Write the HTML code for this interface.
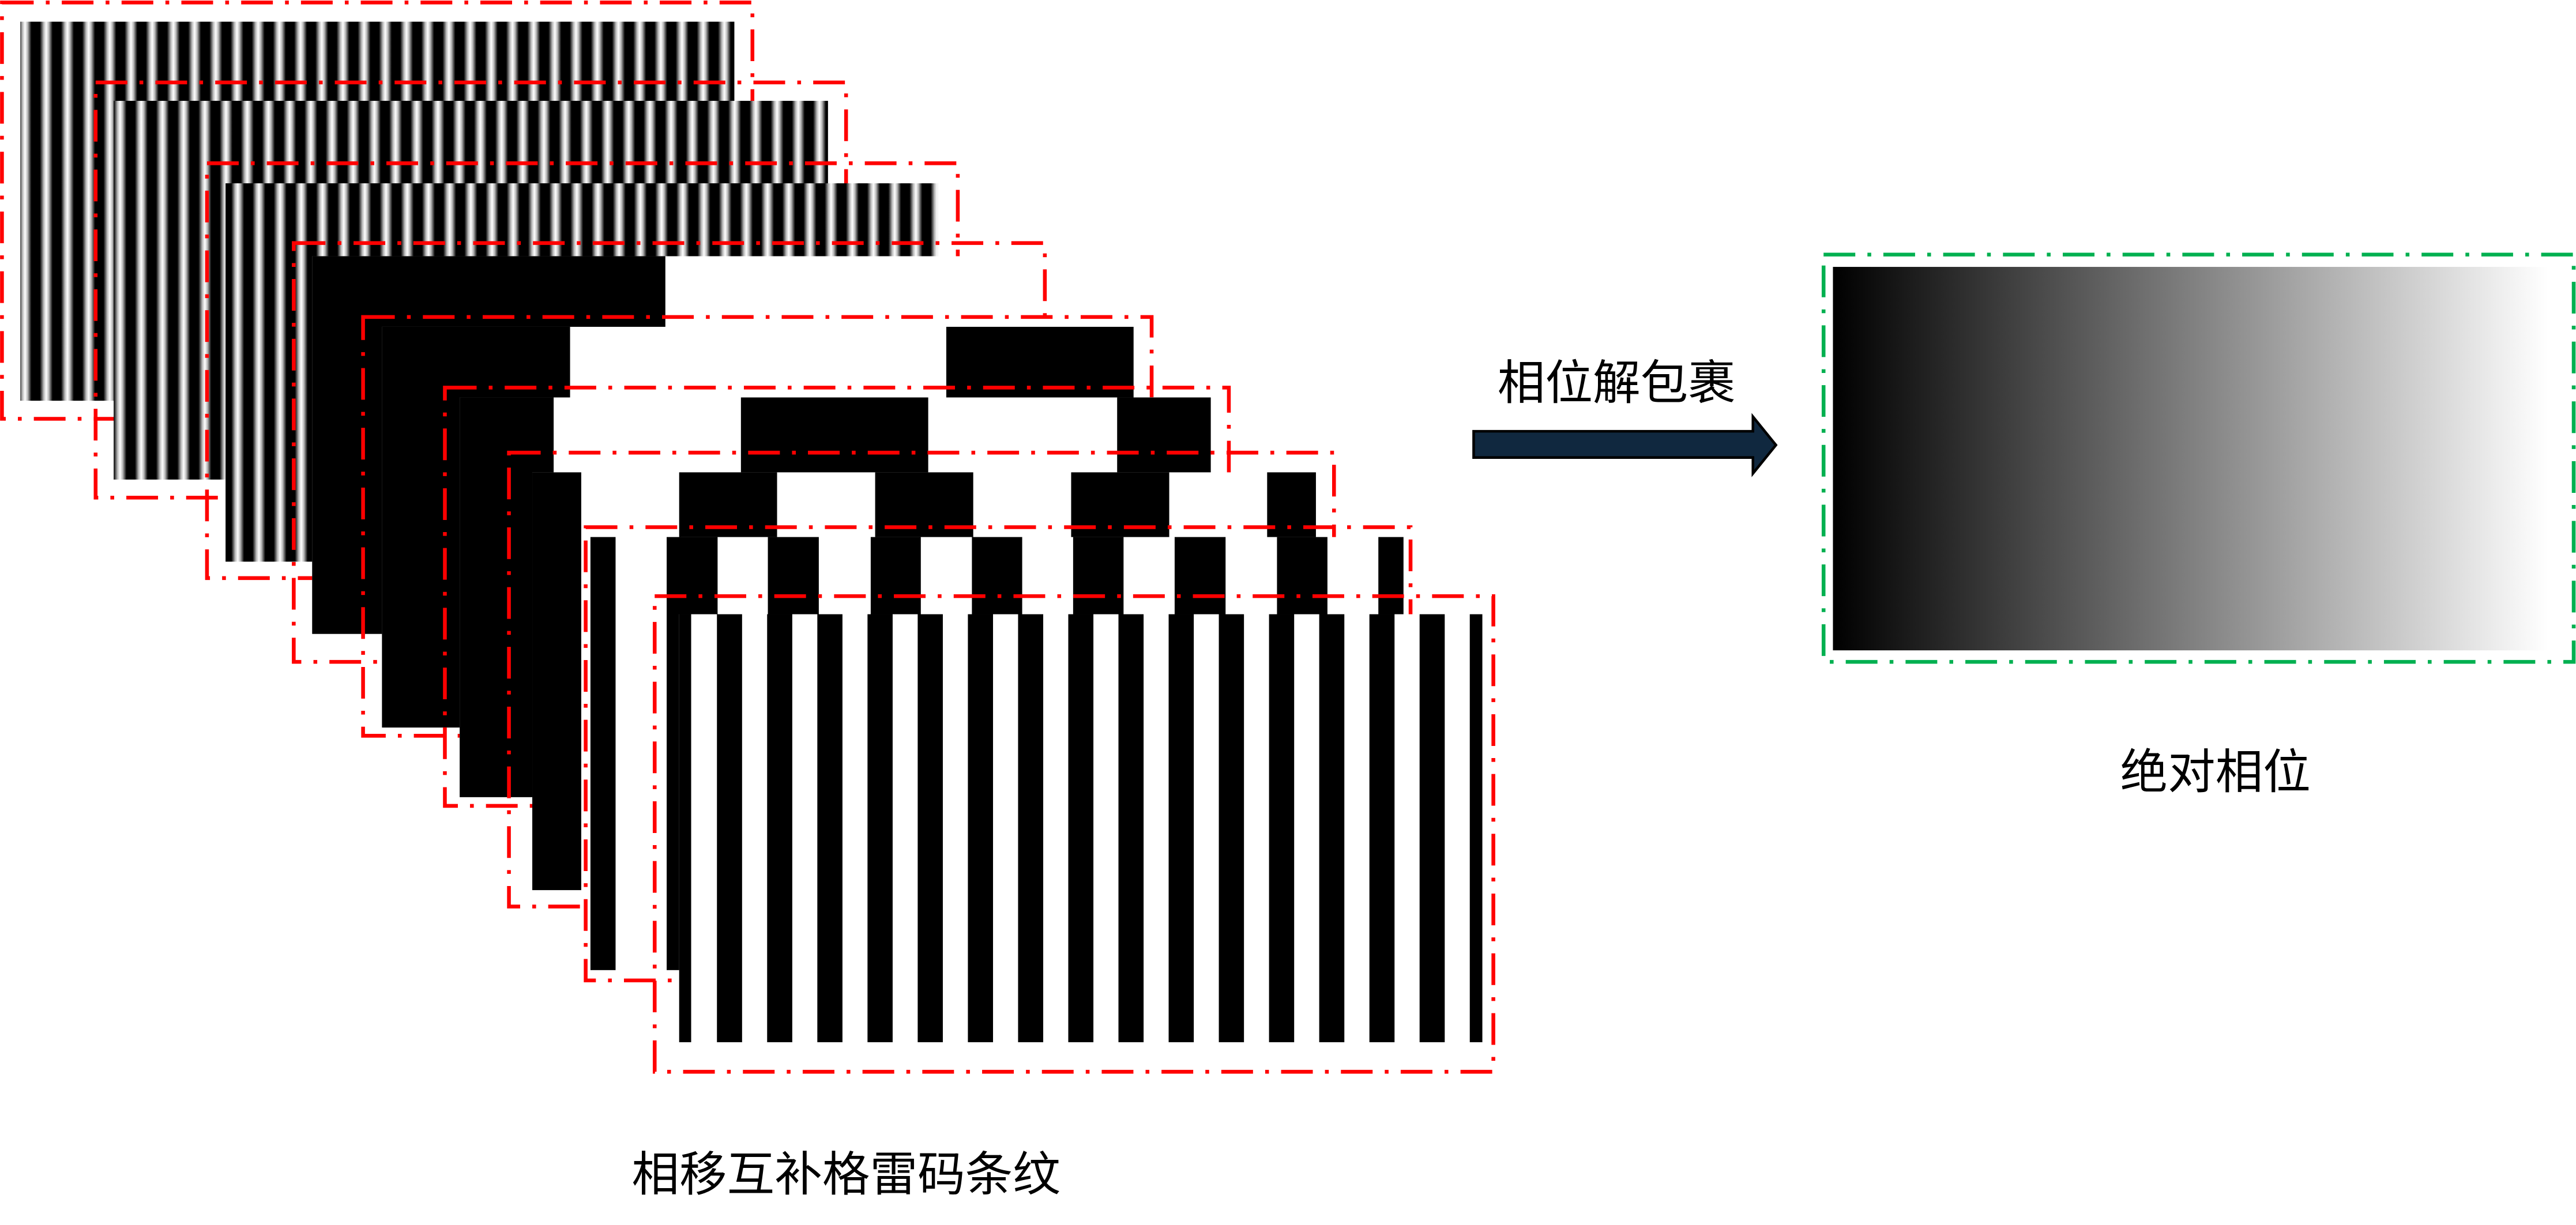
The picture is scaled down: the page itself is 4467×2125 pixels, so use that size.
<!DOCTYPE html>
<html><head><meta charset="utf-8"><style>
html,body{margin:0;padding:0;background:#fff;}
svg{display:block;}
text{font-family:"Liberation Sans","Noto Sans CJK SC",sans-serif;font-size:29px;fill:#000;}
</style></head><body>
<svg width="4467" height="2125" viewBox="0 0 1568 745.9" xmlns="http://www.w3.org/2000/svg">
<defs>
<linearGradient id="fr" x1="0" y1="0" x2="1" y2="0">
<stop offset="0" stop-color="#fff"/><stop offset="0.12" stop-color="#bbb"/><stop offset="0.3" stop-color="#000"/><stop offset="0.7" stop-color="#000"/><stop offset="0.88" stop-color="#bbb"/><stop offset="1" stop-color="#fff"/>
</linearGradient>
<pattern id="p1" patternUnits="userSpaceOnUse" x="15.25" y="0" width="12.9" height="10"><rect width="12.9" height="10" fill="url(#fr)"/></pattern>
<pattern id="p2" patternUnits="userSpaceOnUse" x="73.1" y="0" width="12.9" height="10"><rect width="12.9" height="10" fill="url(#fr)"/></pattern>
<pattern id="p3" patternUnits="userSpaceOnUse" x="144.7" y="0" width="12.9" height="10"><rect width="12.9" height="10" fill="url(#fr)"/></pattern>
<linearGradient id="abs" x1="0" y1="0" x2="1" y2="0"><stop offset="0" stop-color="#000"/><stop offset="1" stop-color="#fff"/></linearGradient>
</defs>
<g fill="none" stroke="#ff0000" stroke-width="2.3" stroke-dasharray="19.3 7.4 2.3 7.4">
</g>
<!-- frame1 + image1 -->
<rect x="1.2" y="1.5" width="456.8" height="253.5" fill="none" stroke="#f00" stroke-width="2.3" stroke-dasharray="19.3 7.4 2.3 7.4"/>
<rect x="12.3" y="13.2" width="434.7" height="230.8" fill="url(#p1)"/>
<!-- frame2 + image2 -->
<rect x="58.2" y="50.2" width="456.8" height="252.8" fill="none" stroke="#f00" stroke-width="2.3" stroke-dasharray="19.3 7.4 2.3 7.4"/>
<rect x="69.2" y="61.4" width="434.8" height="230.6" fill="url(#p2)"/>
<!-- frame3 + image3 -->
<rect x="126" y="99.4" width="457" height="252.6" fill="none" stroke="#f00" stroke-width="2.3" stroke-dasharray="19.3 7.4 2.3 7.4"/>
<rect x="137.3" y="111.6" width="433.7" height="230.4" fill="url(#p3)"/>
<!-- frame4 + image4 -->
<rect x="178.8" y="148" width="457.2" height="255" fill="none" stroke="#f00" stroke-width="2.3" stroke-dasharray="19.3 7.4 2.3 7.4"/>
<rect x="190" y="156" width="430" height="230" fill="#fff"/>
<rect x="190" y="156" width="215" height="230" fill="#000"/>
<!-- frame5 + image5 -->
<rect x="221" y="193" width="480" height="255" fill="none" stroke="#f00" stroke-width="2.3" stroke-dasharray="19.3 7.4 2.3 7.4"/>
<rect x="232.5" y="199" width="457.5" height="244" fill="#fff"/>
<rect x="232.5" y="199" width="114.5" height="244" fill="#000"/>
<rect x="576" y="199" width="114" height="244" fill="#000"/>
<!-- frame6 + image6 -->
<rect x="270.8" y="236" width="477.2" height="254.7" fill="none" stroke="#f00" stroke-width="2.3" stroke-dasharray="19.3 7.4 2.3 7.4"/>
<rect x="279.8" y="242" width="457.2" height="243.4" fill="#fff"/>
<g fill="#000">
<rect x="279.8" y="242" width="57.2" height="243.4"/>
<rect x="451" y="242" width="114" height="243.4"/>
<rect x="680" y="242" width="57" height="243.4"/>
</g>
<!-- frame7 + image7 -->
<rect x="309.8" y="275.6" width="502.2" height="276.4" fill="none" stroke="#f00" stroke-width="2.3" stroke-dasharray="19.3 7.4 2.3 7.4"/>
<rect x="324" y="287.6" width="477" height="254.4" fill="#fff"/>
<g fill="#000">
<rect x="324" y="287.6" width="29.8" height="254.4"/>
<rect x="413.4" y="287.6" width="59.6" height="254.4"/>
<rect x="532.7" y="287.6" width="59.7" height="254.4"/>
<rect x="652" y="287.6" width="59.7" height="254.4"/>
<rect x="771.3" y="287.6" width="29.7" height="254.4"/>
</g>
<!-- frame8 + image8 -->
<rect x="356.5" y="321" width="502.1" height="276" fill="none" stroke="#f00" stroke-width="2.3" stroke-dasharray="19.3 7.4 2.3 7.4"/>
<rect x="359.4" y="327" width="494.9" height="263.7" fill="#fff"/>
<g fill="#000">
<rect x="359.4" y="327" width="15.3" height="263.7"/>
<rect x="405.8" y="327" width="31" height="263.7"/>
<rect x="467.4" y="327" width="31" height="263.7"/>
<rect x="530" y="327" width="30.5" height="263.7"/>
<rect x="591.6" y="327" width="30.6" height="263.7"/>
<rect x="653.2" y="327" width="30.7" height="263.7"/>
<rect x="715" y="327" width="31" height="263.7"/>
<rect x="777.3" y="327" width="30.7" height="263.7"/>
<rect x="839" y="327" width="15.3" height="263.7"/>
</g>
<!-- frame9 + image9 -->
<rect x="398.5" y="363" width="510.5" height="289.6" fill="none" stroke="#f00" stroke-width="2.3" stroke-dasharray="19.3 7.4 2.3 7.4"/>
<rect x="413.4" y="374" width="488.9" height="260.6" fill="#fff"/>
<g fill="#000">
<rect x="413.4" y="374" width="7.3" height="260.6"/>
<rect x="436.4" y="374" width="15.3" height="260.6"/>
<rect x="466.95" y="374" width="15.3" height="260.6"/>
<rect x="497.5" y="374" width="15.3" height="260.6"/>
<rect x="528.05" y="374" width="15.3" height="260.6"/>
<rect x="558.6" y="374" width="15.3" height="260.6"/>
<rect x="589.15" y="374" width="15.3" height="260.6"/>
<rect x="619.7" y="374" width="15.3" height="260.6"/>
<rect x="650.25" y="374" width="15.3" height="260.6"/>
<rect x="680.8" y="374" width="15.3" height="260.6"/>
<rect x="711.35" y="374" width="15.3" height="260.6"/>
<rect x="741.9" y="374" width="15.3" height="260.6"/>
<rect x="772.45" y="374" width="15.3" height="260.6"/>
<rect x="803" y="374" width="15.3" height="260.6"/>
<rect x="833.55" y="374" width="15.3" height="260.6"/>
<rect x="864.1" y="374" width="15.3" height="260.6"/>
<rect x="894.65" y="374" width="7.65" height="260.6"/>
</g>
<!-- arrow -->
<polygon points="897,262.6 1067,262.6 1067,253.7 1081,271 1067,288.3 1067,278.6 897,278.6" fill="#10283f" stroke="#000" stroke-width="1.6"/>
<text x="984" y="243" text-anchor="middle">相位解包裹</text>
<!-- absolute phase -->
<rect x="1110" y="155" width="456.6" height="248" fill="none" stroke="#00b050" stroke-width="2.3" stroke-dasharray="19.3 7.4 2.3 7.4"/>
<rect x="1115.7" y="162.5" width="435.3" height="233.5" fill="url(#abs)"/>
<text x="1348.5" y="480" text-anchor="middle">绝对相位</text>
<text x="515" y="725" text-anchor="middle">相移互补格雷码条纹</text>
</svg>
</body></html>
